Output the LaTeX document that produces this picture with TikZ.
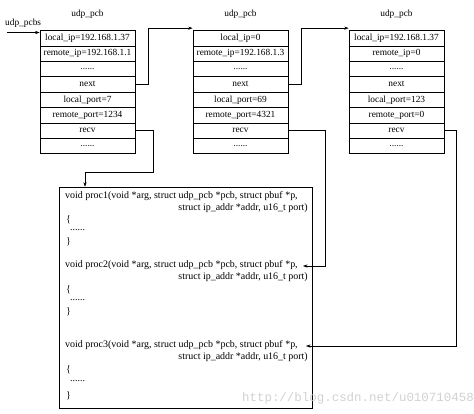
\documentclass[tikz,border=0pt]{standalone}
\usepackage{fontspec}
\setmainfont{Liberation Serif}
\newfontfamily\wmfont{Liberation Mono}
\usetikzlibrary{arrows.meta,calc}
\tikzset{
  row/.style={draw, line width=0.7pt, minimum width=95bp, minimum height=15.4bp, inner sep=0pt, font=\fontsize{9.4}{11}\selectfont},
  lbl/.style={font=\fontsize{9.4}{11}\selectfont, inner sep=0pt},
  code/.style={font=\fontsize{10}{12}\selectfont, inner sep=0pt},
  arr/.style={line width=0.5pt, -{Stealth[length=4.5pt,width=3.2pt]}},
}
\begin{document}
\begin{tikzpicture}[x=1bp,y=-1bp]
\useasboundingbox (0,0) rectangle (474,413);
% box 1
\node[lbl] (h1) at (87.5,14) {udp\_pcb};
\node[row] (b11) at (87.5,38.2) {local\_ip=192.168.1.37};
\node[row] (b12) at (87.5,53.6) {remote\_ip=192.168.1.1};
\node[row] (b13) at (87.5,69.0) {......};
\node[row] (b14) at (87.5,84.4) {next};
\node[row] (b15) at (87.5,99.8) {local\_port=7};
\node[row] (b16) at (87.5,115.2) {remote\_port=1234};
\node[row] (b17) at (87.5,130.6) {recv};
\node[row] (b18) at (87.5,146.0) {......};
% box 2
\node[lbl] (h2) at (240.5,14) {udp\_pcb};
\node[row] (b21) at (240.5,38.2) {local\_ip=0};
\node[row] (b22) at (240.5,53.6) {remote\_ip=192.168.1.3};
\node[row] (b23) at (240.5,69.0) {......};
\node[row] (b24) at (240.5,84.4) {next};
\node[row] (b25) at (240.5,99.8) {local\_port=69};
\node[row] (b26) at (240.5,115.2) {remote\_port=4321};
\node[row] (b27) at (240.5,130.6) {recv};
\node[row] (b28) at (240.5,146.0) {......};
% box 3
\node[lbl] (h3) at (396.5,14) {udp\_pcb};
\node[row] (b31) at (396.5,38.2) {local\_ip=192.168.1.37};
\node[row] (b32) at (396.5,53.6) {remote\_ip=0};
\node[row] (b33) at (396.5,69.0) {......};
\node[row] (b34) at (396.5,84.4) {next};
\node[row] (b35) at (396.5,99.8) {local\_port=123};
\node[row] (b36) at (396.5,115.2) {remote\_port=0};
\node[row] (b37) at (396.5,130.6) {recv};
\node[row] (b38) at (396.5,146.0) {......};
% head pointer
\node[lbl, anchor=west] (head) at (5,23) {udp\_pcbs};
\coordinate (s) at (7,32.5);
\draw[arr] (s) -- (s -| b11.west);
% next links
\draw[arr] (b14.east) -- ++(13,0) |- ($(b21.north west)+(0,-2)$);
\draw[arr] (b24.east) -- ++(13,0) |- ($(b31.north west)+(0,-2)$);
% code box
\node[draw, line width=0.7pt, anchor=north west, minimum width=253.5bp, minimum height=220.8bp, inner sep=0pt] (code) at (58.5,186.7) {};
\node[code, anchor=west] (p1) at (65,196) {void proc1(void *arg, struct udp\_pcb *pcb, struct pbuf *p,};
\node[code, anchor=east] (p1b) at (308,208) {struct ip\_addr *addr, u16\_t port)};
\node[code, anchor=west] (o1) at (66,219.5) {\{};
\node[code, anchor=west] (d1) at (70,230) {......};
\node[code, anchor=west] (c1) at (66,242) {\}};
\node[code, anchor=west] (p2) at (65,265) {void proc2(void *arg, struct udp\_pcb *pcb, struct pbuf *p,};
\node[code, anchor=east] (p2b) at (308,277) {struct ip\_addr *addr, u16\_t port)};
\node[code, anchor=west] (o2) at (66,290) {\{};
\node[code, anchor=west] (d2) at (70,300) {......};
\node[code, anchor=west] (c2) at (66,312) {\}};
\node[code, anchor=west] (p3) at (65,345) {void proc3(void *arg, struct udp\_pcb *pcb, struct pbuf *p,};
\node[code, anchor=east] (p3b) at (308,357) {struct ip\_addr *addr, u16\_t port)};
\node[code, anchor=west] (o3) at (66,370) {\{};
\node[code, anchor=west] (d3) at (70,381) {......};
\node[code, anchor=west] (c3) at (66,396) {\}};
% recv links
\coordinate (k1) at (85,172);
\draw[arr] (b17.east) -- ++(18,0) |- (k1) -- (k1 |- code.north);
\coordinate (t2) at (303,266);
\draw[arr] (b27.east) -- ++(37,0) |- (t2);
\coordinate (t3) at (306,346);
\draw[arr] (b37.east) -- ++(12,0) |- (t3);
% watermark
\node[anchor=east, inner sep=0pt, text=black!18, font=\wmfont\fontsize{12.5}{14}\selectfont] (wm) at (474,398) {http://blog.csdn.net/u010710458};
\end{tikzpicture}
\end{document}
